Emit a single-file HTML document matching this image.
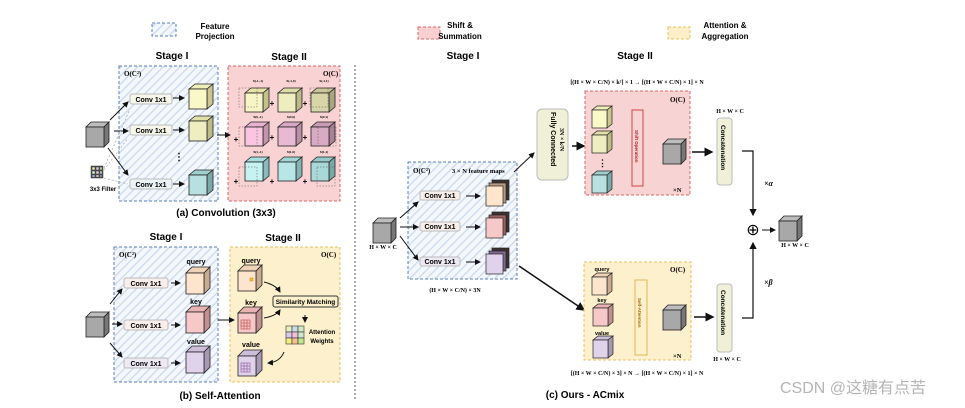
<!DOCTYPE html>
<html><head><meta charset="utf-8"><style>
html,body{margin:0;padding:0;background:#fff;}
svg{display:block;font-family:"Liberation Sans",Arial,sans-serif;}
.b{font-weight:bold;}
.s{font-family:"Liberation Serif",serif;font-weight:bold;}
</style></head><body>
<svg width="965" height="408" viewBox="0 0 965 408" xmlns="http://www.w3.org/2000/svg">
<defs>
<pattern id="hatch" width="6" height="6" patternUnits="userSpaceOnUse" patternTransform="rotate(45)">
<rect width="6" height="6" fill="#f4f8fd"/><line x1="0" y1="0" x2="0" y2="6" stroke="#c9d8ee" stroke-width="2.5"/></pattern>
<marker id="ar" markerWidth="6" markerHeight="6" refX="5" refY="3" orient="auto"><path d="M0,0 L6,3 L0,6 z" fill="#111"/></marker>
<marker id="arg" markerWidth="6" markerHeight="6" refX="5" refY="3" orient="auto"><path d="M0,0 L6,3 L0,6 z" fill="#999"/></marker>
<g id="cg"><polygon points="0,5 5,0 23,0 18,5" fill="#bdbdbd" stroke="#222" stroke-width="0.8"/><polygon points="18,5 23,0 23,20 18,25" fill="#777" stroke="#222" stroke-width="0.8"/><rect x="0" y="5" width="18" height="20" fill="#a8a8a8" stroke="#222" stroke-width="0.8"/></g>
</defs>
<g stroke="#222" stroke-width="0.8">
</g>
<!-- legend -->
<rect x="152" y="23" width="24" height="13" fill="url(#hatch)" stroke="#5b7fc0" stroke-dasharray="3,2"/>
<text x="215" y="29" font-size="8" class="b" text-anchor="middle">Feature</text>
<text x="215" y="39" font-size="8" class="b" text-anchor="middle">Projection</text>
<rect x="418" y="27" width="22" height="12" fill="#f8d0d0" stroke="#d66" stroke-dasharray="3,2"/>
<text x="460" y="28" font-size="8" class="b" text-anchor="middle">Shift &amp;</text>
<text x="460" y="39" font-size="8" class="b" text-anchor="middle">Summation</text>
<rect x="668" y="27" width="22" height="12" fill="#fdf0c8" stroke="#e8c060" stroke-dasharray="3,2"/>
<text x="725" y="28" font-size="8" class="b" text-anchor="middle">Attention &amp;</text>
<text x="725" y="39" font-size="8" class="b" text-anchor="middle">Aggregation</text>

<!-- (a) -->
<text x="172" y="59" font-size="10" class="b" text-anchor="middle">Stage I</text>
<text x="289" y="60" font-size="10" class="b" text-anchor="middle">Stage II</text>
<rect x="119" y="66" width="99" height="135" fill="url(#hatch)" stroke="#5b7fc0" stroke-dasharray="3,2"/>
<rect x="228" y="66" width="112" height="135" fill="#f9d3d3" stroke="#d66" stroke-dasharray="3,2"/>
<text x="124" y="76" font-size="7" class="s">O(C²)</text>
<text x="323" y="76" font-size="7" class="s">O(C)</text>
<use href="#cg" x="86" y="122"/>
<g transform="translate(91,166)" stroke="#333" stroke-width="0.5"><rect width="12" height="12" fill="#556"/><rect x="1" y="1" width="3" height="3" fill="#ee9"/><rect x="5" y="1" width="3" height="3" fill="#ccd"/><rect x="9" y="1" width="2" height="3" fill="#ee9"/><rect x="1" y="5" width="3" height="3" fill="#cfc"/><rect x="5" y="5" width="3" height="3" fill="#ecd"/><rect x="9" y="5" width="2" height="3" fill="#cfc"/><rect x="1" y="9" width="3" height="2" fill="#ccd"/><rect x="5" y="9" width="3" height="2" fill="#eec"/><rect x="9" y="9" width="2" height="2" fill="#ccd"/></g>
<text x="103" y="191" font-size="6" class="b" text-anchor="middle">3x3 Filter</text>
<g stroke="#111" stroke-width="1" marker-end="url(#ar)">
<line x1="110" y1="120" x2="128" y2="102"/><line x1="114" y1="131" x2="128" y2="131"/><line x1="108" y1="148" x2="128" y2="175"/>
<line x1="173" y1="98" x2="184" y2="98"/><line x1="173" y1="130" x2="184" y2="130"/><line x1="173" y1="184" x2="184" y2="184"/>
<line x1="217" y1="135" x2="230" y2="135"/></g>
<g stroke="#999" stroke-width="0.6" stroke-dasharray="2,2"><line x1="104" y1="168" x2="130" y2="109"/><line x1="104" y1="170" x2="128" y2="138"/><line x1="104" y1="178" x2="128" y2="184"/></g>
<g font-size="7" class="b" text-anchor="middle">
<rect x="130" y="94" width="42" height="10" rx="2" fill="#f6f6ea" stroke="#bbb"/><text x="151" y="102">Conv 1x1</text>
<rect x="130" y="125" width="42" height="10" rx="2" fill="#f6f6ea" stroke="#bbb"/><text x="151" y="133">Conv 1x1</text>
<rect x="130" y="179" width="42" height="10" rx="2" fill="#eaf4f6" stroke="#bbb"/><text x="151" y="187">Conv 1x1</text></g>
<text x="174" y="160" font-size="10" class="b">⋮</text>
<g stroke="#222" stroke-width="0.8">
<polygon points="189,89 195,84 213,84 207,89" fill="#f1efb9"/><polygon points="207,89 213,84 213,104 207,109" fill="#c9c78f"/><rect x="189" y="89" width="18" height="20" fill="#fbf8c8"/>
<polygon points="189,121 195,116 213,116 207,121" fill="#e2e0a9"/><polygon points="207,121 213,116 213,136 207,141" fill="#bdbb86"/><rect x="189" y="121" width="18" height="20" fill="#efeec0"/>
<polygon points="189,175 195,170 213,170 207,175" fill="#9fcfcf"/><polygon points="207,175 213,170 213,190 207,195" fill="#7aa9a9"/><rect x="189" y="175" width="18" height="20" fill="#b8e0e0"/>
</g>
<!-- 3x3 grid -->
<g stroke="#222" stroke-width="0.8">
<polygon points="245,93 251,88 269,88 263,93" fill="#e6e3a9"/><polygon points="263,93 269,88 269,107 263,112" fill="#c4c18a"/><rect x="245" y="93" width="18" height="19" fill="#f7f4c5"/>
<polygon points="278,93 284,88 302,88 296,93" fill="#dedcaa"/><polygon points="296,93 302,88 302,107 296,112" fill="#bcba8a"/><rect x="278" y="93" width="18" height="19" fill="#ededc0"/>
<polygon points="311,93 317,88 335,88 329,93" fill="#c8c69a"/><polygon points="329,93 335,88 335,107 329,112" fill="#a9a77e"/><rect x="311" y="93" width="18" height="19" fill="#d8d6a8"/>
<polygon points="245,127 251,122 269,122 263,127" fill="#e9b2cf"/><polygon points="263,127 269,122 269,141 263,146" fill="#c693ad"/><rect x="245" y="127" width="18" height="19" fill="#f8c6e0"/>
<polygon points="278,127 284,122 302,122 296,127" fill="#d9a9c4"/><polygon points="296,127 302,122 302,141 296,146" fill="#b98ea6"/><rect x="278" y="127" width="18" height="19" fill="#e9b8d3"/>
<polygon points="311,127 317,122 335,122 329,127" fill="#c99cb4"/><polygon points="329,127 335,122 335,141 329,146" fill="#a98297"/><rect x="311" y="127" width="18" height="19" fill="#d9aac4"/>
<polygon points="245,162 251,157 269,157 263,162" fill="#a8dede"/><polygon points="263,162 269,157 269,176 263,181" fill="#88bcbc"/><rect x="245" y="162" width="18" height="19" fill="#c6f2f2"/>
<polygon points="278,162 284,157 302,157 296,162" fill="#a2d6d6"/><polygon points="296,162 302,157 302,176 296,181" fill="#82b4b4"/><rect x="278" y="162" width="18" height="19" fill="#b8e6e6"/>
<polygon points="311,162 317,157 335,157 329,162" fill="#96caca"/><polygon points="329,162 335,157 335,176 329,181" fill="#78a8a8"/><rect x="311" y="162" width="18" height="19" fill="#a8d8d8"/>
</g>
<g fill="none" stroke="#555" stroke-width="0.5" stroke-dasharray="1.5,1.5">
<rect x="239" y="88" width="18" height="19"/><rect x="310" y="88" width="18" height="19"/><rect x="239" y="127" width="18" height="19"/><rect x="318" y="127" width="18" height="19"/><rect x="239" y="167" width="18" height="19"/><rect x="317" y="167" width="18" height="19"/></g>
<g font-size="3" class="b" text-anchor="middle"><text x="258" y="82">S(-1,-1)</text><text x="291" y="82">S(-1,0)</text><text x="324" y="82">S(-1,1)</text><text x="258" y="118">S(0,-1)</text><text x="291" y="118">S(0,0)</text><text x="324" y="118">S(0,1)</text><text x="258" y="153">S(1,-1)</text><text x="291" y="153">S(1,0)</text><text x="324" y="153">S(1,1)</text></g>
<g font-size="8" class="b" text-anchor="middle"><text x="272" y="106">+</text><text x="305" y="106">+</text><text x="236" y="142">+</text><text x="272" y="140">+</text><text x="305" y="140">+</text><text x="236" y="184">+</text><text x="272" y="184">+</text><text x="305" y="184">+</text></g>
<text x="226" y="216" font-size="10" class="b" text-anchor="middle">(a) Convolution (3x3)</text>

<line x1="355" y1="65" x2="355" y2="400" stroke="#555" stroke-width="1" stroke-dasharray="2,2"/>

<!-- (b) -->
<text x="166" y="240" font-size="10" class="b" text-anchor="middle">Stage I</text>
<text x="283" y="241" font-size="10" class="b" text-anchor="middle">Stage II</text>
<rect x="114" y="247" width="104" height="135" fill="url(#hatch)" stroke="#5b7fc0" stroke-dasharray="3,2"/>
<rect x="230" y="247" width="110" height="135" fill="#fdf0cc" stroke="#e8c060" stroke-dasharray="3,2"/>
<text x="119" y="257" font-size="7" class="s">O(C²)</text>
<text x="321" y="257" font-size="7" class="s">O(C)</text>
<use href="#cg" x="86" y="312"/>
<g stroke="#111" stroke-width="1" marker-end="url(#ar)">
<line x1="110" y1="304" x2="122" y2="289"/><line x1="112" y1="324" x2="122" y2="324"/><line x1="110" y1="343" x2="122" y2="357"/>
<line x1="171" y1="283" x2="180" y2="283"/><line x1="171" y1="325" x2="180" y2="325"/><line x1="171" y1="363" x2="180" y2="363"/>
<line x1="218" y1="320" x2="234" y2="320"/>
<line x1="305" y1="315" x2="305" y2="322"/>
</g>
<g fill="none" stroke="#111" stroke-width="1" marker-end="url(#ar)"><path d="M264,282 Q276,285 280,292"/><path d="M264,318 Q276,316 280,310"/><path d="M284,352 Q280,362 268,363"/></g>
<g font-size="7" class="b" text-anchor="middle">
<rect x="124" y="278" width="44" height="10" rx="2" fill="#f8eeea" stroke="#bbb"/><text x="146" y="286">Conv 1x1</text>
<rect x="124" y="320" width="44" height="10" rx="2" fill="#f8eeea" stroke="#bbb"/><text x="146" y="328">Conv 1x1</text>
<rect x="124" y="358" width="44" height="10" rx="2" fill="#eeeaf4" stroke="#bbb"/><text x="146" y="366">Conv 1x1</text>
<text x="196" y="264">query</text><text x="196" y="304">key</text><text x="196" y="344">value</text>
<text x="251" y="263">query</text><text x="251" y="305">key</text><text x="251" y="347">value</text>
<text x="322" y="334" font-size="6">Attention</text><text x="322" y="343" font-size="6">Weights</text></g>
<g stroke="#222" stroke-width="0.8">
<polygon points="186,273 192,267 210,267 204,273" fill="#efd3b7"/><polygon points="204,273 210,267 210,288 204,294" fill="#c8ac92"/><rect x="186" y="273" width="18" height="21" fill="#fde4cc"/>
<polygon points="186,312 192,306 210,306 204,312" fill="#e8b3b3"/><polygon points="204,312 210,306 210,327 204,333" fill="#c29090"/><rect x="186" y="312" width="18" height="21" fill="#f6c8c8"/>
<polygon points="186,352 192,346 210,346 204,352" fill="#cdbfd9"/><polygon points="204,352 210,346 210,367 204,373" fill="#a799b3"/><rect x="186" y="352" width="18" height="21" fill="#e0d2ea"/>
<polygon points="238,271 244,265 262,265 256,271" fill="#efd3b7"/><polygon points="256,271 262,265 262,285 256,291" fill="#c8ac92"/><rect x="238" y="271" width="18" height="20" fill="#fde4cc"/>
<polygon points="238,313 244,307 262,307 256,313" fill="#e8b3b3"/><polygon points="256,313 262,307 262,327 256,333" fill="#c29090"/><rect x="238" y="313" width="18" height="20" fill="#f6c8c8"/>
<polygon points="238,356 244,350 262,350 256,356" fill="#cdbfd9"/><polygon points="256,356 262,350 262,370 256,376" fill="#a799b3"/><rect x="238" y="356" width="18" height="20" fill="#e0d2ea"/>
</g>
<rect x="250" y="278" width="3" height="3" fill="#f5c040" stroke="#c80" stroke-width="0.5"/>
<g stroke="#b44" stroke-width="0.6" fill="none"><rect x="241" y="320" width="9" height="9"/><line x1="244" y1="320" x2="244" y2="329"/><line x1="247" y1="320" x2="247" y2="329"/><line x1="241" y1="323" x2="250" y2="323"/><line x1="241" y1="326" x2="250" y2="326"/></g>
<g stroke="#859" stroke-width="0.6" fill="none"><rect x="241" y="363" width="9" height="9"/><line x1="244" y1="363" x2="244" y2="372"/><line x1="247" y1="363" x2="247" y2="372"/><line x1="241" y1="366" x2="250" y2="366"/><line x1="241" y1="369" x2="250" y2="369"/></g>
<rect x="273" y="296" width="65" height="11" rx="2" fill="#fdf0cc" stroke="#333"/><text x="305.5" y="304" font-size="6.5" class="b" text-anchor="middle">Similarity Matching</text>
<g stroke="#333" stroke-width="0.6"><rect x="286" y="326" width="6" height="6" fill="#e8f0c0"/><rect x="292" y="326" width="6" height="6" fill="#c8dcec"/><rect x="298" y="326" width="6" height="6" fill="#d0e8c8"/><rect x="286" y="332" width="6" height="6" fill="#d8c8ec"/><rect x="292" y="332" width="6" height="6" fill="#f4c0d8"/><rect x="298" y="332" width="6" height="6" fill="#cce8cc"/><rect x="286" y="338" width="6" height="6" fill="#f0f080"/><rect x="292" y="338" width="6" height="6" fill="#f8c090"/><rect x="298" y="338" width="6" height="6" fill="#c0e890"/></g>
<text x="220" y="399" font-size="10" class="b" text-anchor="middle">(b) Self-Attention</text>

<!-- (c) -->
<text x="463" y="59" font-size="10" class="b" text-anchor="middle">Stage I</text>
<text x="635" y="59" font-size="10" class="b" text-anchor="middle">Stage II</text>
<rect x="408" y="162" width="109" height="117" fill="url(#hatch)" stroke="#5b7fc0" stroke-dasharray="3,2"/>
<text x="413" y="173" font-size="7" class="s">O(C²)</text>
<text x="452" y="173" font-size="6.5" class="s">3 × N  feature maps</text>
<use href="#cg" x="373" y="218"/>
<text x="383" y="249" font-size="6" class="s" text-anchor="middle">H × W × C</text>
<g font-size="7" class="b" text-anchor="middle">
<rect x="420" y="191" width="40" height="9" rx="2" fill="#f8eeea" stroke="#bbb"/><text x="440" y="198">Conv 1x1</text>
<rect x="420" y="222" width="40" height="9" rx="2" fill="#f8eeea" stroke="#bbb"/><text x="440" y="229">Conv 1x1</text>
<rect x="420" y="257" width="40" height="9" rx="2" fill="#eeeaf4" stroke="#bbb"/><text x="440" y="264">Conv 1x1</text></g>
<g stroke="#222" stroke-width="0.7">
<rect x="492" y="180" width="17" height="20" fill="#3a3330"/><rect x="489" y="183" width="17" height="20" fill="#b89a80"/><rect x="486" y="186" width="17" height="20" fill="#fde4cc"/>
<rect x="492" y="212" width="17" height="20" fill="#3a3330"/><rect x="489" y="215" width="17" height="20" fill="#a06060"/><rect x="486" y="218" width="17" height="20" fill="#f6c8c8"/>
<rect x="492" y="248" width="17" height="20" fill="#3a3330"/><rect x="489" y="251" width="17" height="20" fill="#806890"/><rect x="486" y="254" width="17" height="20" fill="#e0d2ea"/></g>
<text x="455" y="292" font-size="6" class="s" text-anchor="middle">(H × W × C/N) × 3N</text>
<g stroke="#111" stroke-width="1" marker-end="url(#ar)">
<line x1="400" y1="218" x2="418" y2="202"/><line x1="400" y1="227" x2="418" y2="227"/><line x1="400" y1="236" x2="418" y2="260"/>
<line x1="466" y1="196" x2="480" y2="196"/><line x1="466" y1="227" x2="480" y2="227"/><line x1="466" y1="262" x2="480" y2="262"/>
<line x1="514" y1="172" x2="534" y2="153"/><line x1="519" y1="266" x2="584" y2="310" stroke-width="1.5"/>
<line x1="572" y1="146" x2="584" y2="146" stroke-width="1.5"/>
<line x1="616" y1="117" x2="628" y2="117"/><line x1="616" y1="141" x2="628" y2="141"/><line x1="616" y1="182" x2="628" y2="182"/>
<line x1="648" y1="151" x2="660" y2="151"/><line x1="692" y1="152" x2="712" y2="152" stroke-width="1.5"/>
<line x1="616" y1="287" x2="628" y2="287"/><line x1="616" y1="317" x2="628" y2="317"/><line x1="616" y1="349" x2="628" y2="349"/>
<line x1="650" y1="317" x2="661" y2="317"/><line x1="694" y1="317" x2="713" y2="317" stroke-width="1.5"/>
<path d="M742,151 L753,151 L753,215" fill="none" stroke-width="1.2"/>
<path d="M742,318 L753,318 L753,243" fill="none" stroke-width="1.2"/>
<line x1="762" y1="230" x2="775" y2="230"/>
</g>
<rect x="537" y="109" width="31" height="71" rx="5" fill="#f0f0d8" stroke="#bbb"/>
<text transform="translate(551,112) rotate(90)" font-size="7" class="b">Fully Connected</text>
<text transform="translate(560,128) rotate(90)" font-size="6" class="s">3N × k²N</text>
<text x="637" y="84" font-size="6" class="s" text-anchor="middle">[(H × W × C/N) × k²] × 1 → [(H × W × C/N) × 1] × N</text>
<rect x="585" y="91" width="105" height="104" fill="#f8d3d3" stroke="#d66" stroke-dasharray="3,2"/>
<text x="670" y="102" font-size="7" class="s">O(C)</text><text x="673" y="192" font-size="6.5" class="s">×N</text>
<g stroke="#222" stroke-width="0.7">
<polygon points="592,110 597,106 612,106 607,110" fill="#efedba"/><polygon points="607,110 612,106 612,124 607,128" fill="#c9c78f"/><rect x="592" y="110" width="15" height="18" fill="#fbf8c8"/>
<polygon points="592,135 597,131 612,131 607,135" fill="#e2e0a9"/><polygon points="607,135 612,131 612,149 607,153" fill="#bdbb86"/><rect x="592" y="135" width="15" height="18" fill="#efeec0"/>
<polygon points="592,175 597,171 612,171 607,175" fill="#9fcfcf"/><polygon points="607,175 612,171 612,189 607,193" fill="#7aa9a9"/><rect x="592" y="175" width="15" height="18" fill="#b8e0e0"/>
</g>
<text x="598" y="166" font-size="9" class="b">⋮</text>
<rect x="632" y="110" width="11" height="76" fill="#f8d3d3" stroke="#c44"/>
<text transform="translate(635,130) rotate(90)" font-size="4.5" class="b" fill="#a22">Shift Operation</text>
<use href="#cg" x="663" y="139"/>
<text x="730" y="113" font-size="6" class="s" text-anchor="middle">H × W × C</text>
<rect x="717" y="118" width="15" height="67" rx="3" fill="#f0f0d8" stroke="#bbb"/>
<text transform="translate(721,125) rotate(90)" font-size="6.5" class="b">Concatenation</text>
<text x="764" y="186" font-size="8" class="s" font-style="italic" font-weight="normal">×α</text>
<text x="753" y="235" font-size="16" text-anchor="middle">⊕</text>
<use href="#cg" x="779" y="216"/>
<text x="795" y="247" font-size="6" class="s" text-anchor="middle">H × W × C</text>
<text x="764" y="285" font-size="8" class="s" font-style="italic" font-weight="normal">×β</text>
<rect x="584" y="262" width="107" height="98" fill="#fdf0cc" stroke="#e8c060" stroke-dasharray="3,2"/>
<text x="670" y="272" font-size="7" class="s">O(C)</text><text x="673" y="358" font-size="6.5" class="s">×N</text>
<g font-size="5.5" class="b" text-anchor="middle"><text x="602" y="271">query</text><text x="602" y="302">key</text><text x="602" y="335">value</text></g>
<g stroke="#222" stroke-width="0.7">
<polygon points="592,277 597,273 612,273 607,277" fill="#efd3b7"/><polygon points="607,277 612,273 612,291 607,295" fill="#c8ac92"/><rect x="592" y="277" width="15" height="18" fill="#fde4cc"/>
<polygon points="593,308 598,304 613,304 608,308" fill="#e8b3b3"/><polygon points="608,308 613,304 613,322 608,326" fill="#c29090"/><rect x="593" y="308" width="15" height="18" fill="#f6c8c8"/>
<polygon points="593,340 598,336 613,336 608,340" fill="#cdbfd9"/><polygon points="608,340 613,336 613,354 608,358" fill="#a799b3"/><rect x="593" y="340" width="15" height="18" fill="#e0d2ea"/>
</g>
<rect x="635" y="280" width="12" height="75" fill="#fdf0cc" stroke="#e0b850"/>
<text transform="translate(638,298) rotate(90)" font-size="4.5" class="b" fill="#a60">Self-Attention</text>
<use href="#cg" x="663" y="305"/>
<rect x="717" y="284" width="15" height="68" rx="3" fill="#f0f0d8" stroke="#bbb"/>
<text transform="translate(721,290) rotate(90)" font-size="6.5" class="b">Concatenation</text>
<text x="727" y="361" font-size="6" class="s" text-anchor="middle">H × W × C</text>
<text x="637" y="375" font-size="6" class="s" text-anchor="middle">[(H × W × C/N) × 3] × N → [(H × W × C/N) × 1] × N</text>
<text x="585" y="398" font-size="10" class="b" text-anchor="middle">(c) Ours - ACmix</text>
<text x="780" y="393" font-size="16" fill="#b5b5b5" font-family="Liberation Sans, Noto Sans CJK SC, sans-serif">CSDN @这糖有点苦</text>
</svg>
</body></html>
